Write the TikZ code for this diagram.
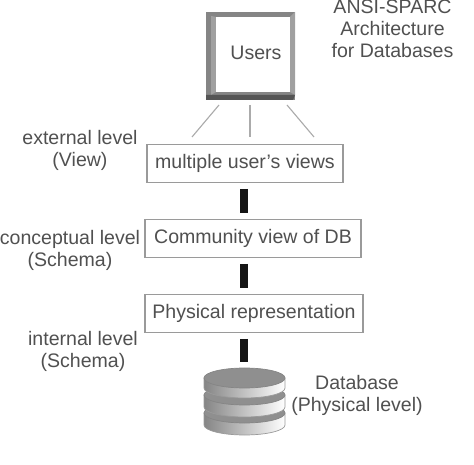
\documentclass[tikz,border=0pt]{standalone}
\usepackage{fontspec}
\setmainfont{Liberation Sans}
\usetikzlibrary{positioning,calc}
\definecolor{TextGray}{HTML}{505050}
\definecolor{BoxGray}{HTML}{9A9A9A}
\definecolor{FrameGray}{HTML}{858585}
\definecolor{FrameDark}{HTML}{555555}
\definecolor{FrameLight}{HTML}{A0A0A0}
\definecolor{LineGray}{HTML}{ABABAB}
\definecolor{BarBlack}{HTML}{151515}
\definecolor{DiscGray}{HTML}{8F8F8F}

\begin{document}
\begin{tikzpicture}[
    x=0.025cm, y=-0.025cm,
    every node/.style={font=\fontsize{13.9}{15.6}\selectfont, text=TextGray},
    label/.style={align=center, inner sep=0pt},
    box/.style={rectangle, draw=BoxGray, fill=white, line width=0.9pt, minimum height=0.95cm, inner sep=0pt},
    userbox/.style={rectangle, fill=white, minimum width=1.85cm, minimum height=1.875cm, inner sep=0pt},
    spoke/.style={draw=LineGray, line width=0.8pt},
    bar/.style={draw=BarBlack, line width=5pt, shorten <=4pt, shorten >=4pt}
  ]
    \useasboundingbox (0,0) rectangle (474,465);

    % Users frame
    \fill[FrameGray] (206,12) -- (295,12) -- (295,100) -- (206,100) -- cycle;
    \fill[FrameLight] (211,16) -- (216,17) -- (216,92) -- (211,95) -- cycle;
    \fill[FrameLight] (290,17) -- (295,12) -- (295,95) -- (290,92) -- cycle;
    \fill[FrameDark] (206,100) -- (206,95) -- (295,95) -- (293,100) -- cycle;
    \node[userbox] (users) at (253,54.5) {};
    \node[label] (userstext) at (256,53) {Users};

    % Levels
    \node[box, minimum width=4.9cm] (views) at (245,163.5) {multiple user's views};
    \node[box, minimum width=5.4cm] (community) at (253,238.5) {Community view of DB};
    \node[box, minimum width=5.45cm] (physical) at (254,313.5) {Physical representation};

    % Database
    \coordinate (db) at (244,368);
    \foreach \y/\h in {413/12,395/12,378/10}{
      \draw[draw=BoxGray, left color=FrameGray, right color=white, line width=0.5pt]
        (204,\y) -- (204,\y+\h) arc[start angle=180, end angle=0, x radius=40.5, y radius=10] -- (285,\y) -- cycle;
      \draw[draw=FrameGray, fill=DiscGray, line width=0.5pt] (244.5,\y) ellipse[x radius=40.5, y radius=10];
    }

    % Connections
    \coordinate (s1) at (219,105);
    \coordinate (s2) at (250,105);
    \coordinate (s3) at (287,105);
    \coordinate (v1) at (192,137);
    \coordinate (v2) at (250,137);
    \coordinate (v3) at (314,137);
    \draw[spoke] (s1) -- (v1);
    \draw[spoke] (s2) -- (v2);
    \draw[spoke] (s3) -- (v3);
    \draw[bar] (views.south -| db) -- (community.north -| db);
    \draw[bar] (community.south -| db) -- (physical.north -| db);
    \draw[bar] (physical.south -| db) -- (db);

    % Labels
    \node[label] (title) at (392.5,28.5) {ANSI-SPARC\\Architecture\\for Databases};
    \node[label] (external) at (80,150) {external level\\(View)};
    \node[label] (conceptual) at (70,250) {conceptual level\\(Schema)};
    \node[label] (internal) at (83,351) {internal level\\(Schema)};
    \node[label] (dbtext) at (357,395) {Database\\(Physical level)};
\end{tikzpicture}
\end{document}
